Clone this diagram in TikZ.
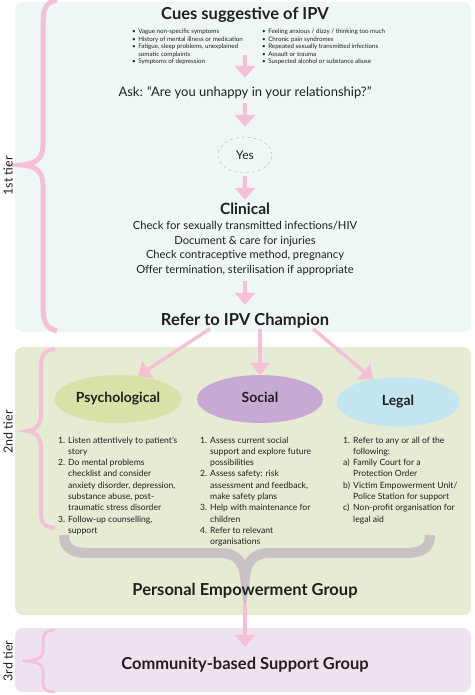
\documentclass[tikz,border=0pt]{standalone}
\usepackage{fontspec}
\setmainfont{Lato}
\usetikzlibrary{arrows.meta,shapes.geometric,positioning}
\definecolor{panelone}{HTML}{EFF6F6}
\definecolor{paneltwo}{HTML}{E6EBD4}
\definecolor{panelthree}{HTML}{EEE2EF}
\definecolor{ipvpink}{HTML}{F4C0D6}
\definecolor{bracegrey}{HTML}{C8C2C4}
\definecolor{psychfill}{HTML}{D7E1A8}
\definecolor{socialfill}{HTML}{C8A9D3}
\definecolor{legalfill}{HTML}{C3E4F1}
\definecolor{ink}{HTML}{231F20}
\tikzset{
    tier panel/.style = {
        rounded corners=8pt,
        },
    tier brace/.style = {
        draw=ipvpink,
        line width=5pt,
        },
    tier label/.style = {
        rotate=90,
        font=\fontsize{12.5}{14}\selectfont,
        text=ink,
        },
    pink arrow/.style = {
        -{Triangle[width=20pt,length=12pt]},
        draw=ipvpink,
        line width=3.5pt,
        },
    heading/.style = {
        font=\fontsize{16.5}{19}\selectfont\bfseries,
        text=ink,
        text height=12pt,
        text depth=3.5pt,
        inner sep=0pt,
        anchor=base,
        },
    plain/.style = {
        text=ink,
        text height=10pt,
        text depth=3pt,
        inner sep=0pt,
        anchor=base,
        },
    cue list/.style = {
        font=\fontsize{6.2}{7.6}\selectfont,
        text=ink,
        inner sep=0pt,
        anchor=base west,
        },
    branch/.style = {
        ellipse,
        font=\fontsize{14}{16}\selectfont\bfseries,
        text=ink,
        text height=10pt,
        text depth=3pt,
        inner sep=0pt,
        },
    branch list/.style = {
        font=\fontsize{8.6}{11.3}\selectfont,
        text=ink,
        inner sep=0pt,
        anchor=base west,
        },
}
\begin{document}
\begin{tikzpicture}[x=1pt,y=-1pt]
    \useasboundingbox (0,0) rectangle (474,695);
    % tiers
    \fill[panelone, tier panel] (15,2) rectangle (471,332);
    \fill[paneltwo, tier panel] (15,347) rectangle (471,615);
    \fill[panelthree, tier panel] (15,628) rectangle (471,692);

    \draw[tier brace] (57,0) .. controls (45,2) and (43,10) .. (43,25) -- (43,145)
        .. controls (43,159) and (35,164) .. (22,165) .. controls (35,166) and (43,171) .. (43,185)
        -- (43,305) .. controls (43,320) and (45,328) .. (57,331);
    \draw[tier brace, line width=4pt] (55,349) .. controls (43,350) and (41,356) .. (41,368) -- (41,414)
        .. controls (41,425) and (36,430) .. (27,431) .. controls (36,432) and (41,437) .. (41,448)
        -- (41,512) .. controls (41,522) and (43,527) .. (55,528);
    \draw[tier brace, line width=2.7pt] (55,630) .. controls (46,630) and (43,634) .. (43,640) -- (43,652)
        .. controls (43,658) and (35,661) .. (23,661) .. controls (35,661) and (43,664) .. (43,670)
        -- (43,683) .. controls (43,689) and (46,692) .. (55,692);

    \node[tier label] (tier1) at (8,176) {1st tier};
    \node[tier label] (tier2) at (8,432) {2nd tier};
    \node[tier label] (tier3) at (8,661) {3rd tier};

    % 1st tier
    \node[heading] (cues) at (245,20) {Cues suggestive of IPV};
    \node[cue list] (cuesleft) at (132,33.5) {\begin{tabular}[t]{@{}l@{\hspace{2.5pt}}l@{}}
        \textbullet & Vague non-specific symptoms\\
        \textbullet & History of mental illness or medication\\
        \textbullet & Fatigue, sleep problems, unexplained\\
                    & somatic complaints\\
        \textbullet & Symptoms of depression
        \end{tabular}};
    \node[cue list] (cuesright) at (262,33.5) {\begin{tabular}[t]{@{}l@{\hspace{2.5pt}}l@{}}
        \textbullet & Feeling anxious / dizzy / thinking too much\\
        \textbullet & Chronic pain syndromes\\
        \textbullet & Repeated sexually transmitted infections\\
        \textbullet & Assault or trauma\\
        \textbullet & Suspected alcohol or substance abuse
        \end{tabular}};
    \node[plain, font=\fontsize{13}{15}\selectfont] (ask) at (245,97)
        {Ask: “Are you unhappy in your relationship?”};
    \node[ellipse, draw=gray!60, dashed, minimum width=54pt, minimum height=36pt,
        font=\fontsize{12}{14}\selectfont, text=ink] (yes) at (245,155) {Yes};
    \node[heading, font=\fontsize{15.5}{18}\selectfont\bfseries] (clinical) at (245,214) {Clinical};
    \node[plain, text height=, text depth=, font=\fontsize{11.2}{14.5}\selectfont] (checks) at (245,229.5)
        {\begin{tabular}[t]{@{}c@{}}
        Check for sexually transmitted infections/HIV\\
        Document \& care for injuries\\
        Check contraceptive method, pregnancy\\
        Offer termination, sterilisation if appropriate
        \end{tabular}};
    \node[heading] (refer) at (245,325) {Refer to IPV Champion};

    \draw[pink arrow, shorten <=31.5pt, shorten >=9pt] (cues.south) -- (ask.north);
    \draw[pink arrow, shorten <=3pt, shorten >=10pt] (ask.south) -- (yes.north);
    \draw[pink arrow, shorten <=3pt, shorten >=2pt] (yes.south) -- (clinical.north);
    \draw[pink arrow, shorten <=3pt, shorten >=8pt] (checks.south) -- (refer.north);

    % 2nd tier
    \node[branch, fill=psychfill, minimum width=127pt, minimum height=48pt] (psych) at (118,399) {Psychological};
    \node[branch, fill=socialfill, minimum width=126pt, minimum height=48pt] (social) at (260,399) {Social};
    \node[branch, fill=legalfill, minimum width=123pt, minimum height=49pt] (legal) at (398,402) {Legal};

    \draw[pink arrow] ([xshift=-35pt]refer.south) -- (psych.49);
    \draw[pink arrow] (refer.south -| social.north) -- (social.north);
    \draw[pink arrow] ([xshift=68pt]refer.south) -- (legal.138);

    \node[branch list] (psychlist) at (58,443) {\begin{tabular}[t]{@{}l@{\hspace{3pt}}l@{}}
        1. & Listen attentively to patient’s\\
           & story\\
        2. & Do mental problems\\
           & checklist and consider\\
           & anxiety disorder, depression,\\
           & substance abuse, post-\\
           & traumatic stress disorder\\
        3. & Follow-up counselling,\\
           & support
        \end{tabular}};
    \node[branch list] (sociallist) at (200,443) {\begin{tabular}[t]{@{}l@{\hspace{3pt}}l@{}}
        1. & Assess current social\\
           & support and explore future\\
           & possibilities\\
        2. & Assess safety: risk\\
           & assessment and feedback,\\
           & make safety plans\\
        3. & Help with maintenance for\\
           & children\\
        4. & Refer to relevant\\
           & organisations
        \end{tabular}};
    \node[branch list] (legallist) at (343,443) {\begin{tabular}[t]{@{}l@{\hspace{3pt}}l@{}}
        1. & Refer to any or all of the\\
           & following:\\
        a) & Family Court for a\\
           & Protection Order\\
        b) & Victim Empowerment Unit/\\
           & Police Station for support\\
        c) & Non-profit organisation for\\
           & legal aid
        \end{tabular}};

    \draw[draw=bracegrey, line width=10pt] (64,535) .. controls (64,548) and (72,553) .. (88,553) -- (222,553)
        .. controls (236,553) and (244,563) .. (245,577) .. controls (246,563) and (254,553) .. (268,553)
        -- (406,553) .. controls (422,553) and (430,548) .. (430,535);
    \node[heading] (personal) at (245,595) {Personal Empowerment Group};

    % 3rd tier
    \node[heading] (community) at (245,669) {Community-based Support Group};
    \draw[pink arrow, shorten <=5pt, shorten >=10pt] (personal.south) -- (community.north);
\end{tikzpicture}
\end{document}
